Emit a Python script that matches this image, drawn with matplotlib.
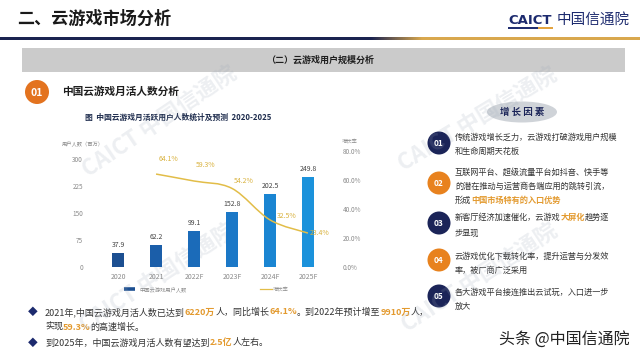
import numpy as np
import matplotlib
matplotlib.use("Agg")
import matplotlib.pyplot as plt
import matplotlib.patches as mpatches
from matplotlib.path import Path
from matplotlib.ticker import FuncFormatter

plt.rcParams["font.family"] = ["Noto Sans CJK SC", "DejaVu Sans"]

# ---------------------------------------------------------------------------
# Data
# ---------------------------------------------------------------------------
YEARS = ["2020", "2021", "2022F", "2023F", "2024F", "2025F"]
USERS = [37.9, 62.2, 99.1, 152.8, 202.5, 249.8]          # 百万人
GROWTH = [64.1, 59.3, 54.2, 32.5, 23.4]                   # %, 2021 起
LEFT_TICKS = [0, 75, 150, 225, 300]
RIGHT_TICKS = [0, 20, 40, 60, 80]

BAR_COLORS = ["#1c4f91", "#1b5ea9", "#1b6bb9", "#1b78c7", "#1a85d2", "#1b92db"]
GOLD = "#e2bd48"
NAVY = "#1b2458"
ORANGE = "#e8821e"
HIGHLIGHT = "#e39a2f"
TEXT = "#333333"

FACTORS = [
    ("01", NAVY, [[("传统游戏增长乏力，云游戏打破游戏用户规模", None)],
                  [("和生命周期天花板", None)]]),
    ("02", ORANGE, [[("互联网平台、超级流量平台如抖音、快手等", None)],
                    [("的潜在推动与运营商各端应用的跳转引流，", None)],
                    [("形成", None), ("中国市场特有的入口优势", "hl")]]),
    ("03", NAVY, [[("新客厅经济加速催化，云游戏", None), ("大屏化", "hl"), ("趋势逐", None)],
                  [("步显现", None)]]),
    ("04", ORANGE, [[("云游戏优化下载转化率，提升运营与分发效", None)],
                    [("率，被厂商广泛采用", None)]]),
    ("05", NAVY, [[("各大游戏平台接连推出云试玩，入口进一步", None)],
                  [("放大", None)]]),
]
FACTOR_CIRCLE_Y = [143, 183, 223, 260, 296]
FACTOR_TEXT_Y = [[137, 151], [172, 186, 200], [217, 233], [256, 270], [292, 306]]

W, H = 640, 360
fig = plt.figure(figsize=(6.4, 3.6), dpi=100)
fig.patch.set_facecolor("white")

bg = fig.add_axes([0, 0, 1, 1])
bg.set_xlim(0, W)
bg.set_ylim(H, 0)
bg.axis("off")


def runs(x, y, parts, size, weight="normal", zorder=5):
    """Draw consecutive coloured text pieces on one line."""
    t = None
    for s, c in parts:
        color = HIGHLIGHT if c == "hl" else (c or TEXT)
        w = "bold" if c == "hl" else weight
        if t is None:
            t = bg.text(x, y, s, color=color, fontsize=size, fontweight=w,
                        ha="left", va="center", zorder=zorder)
        else:
            t = bg.annotate(s, xy=(1, 0.5), xycoords=t, color=color,
                            fontsize=size, fontweight=w,
                            ha="left", va="center", zorder=zorder)
    return t


# --- header -----------------------------------------------------------------
bg.text(17, 19, "二、云游戏市场分析", fontsize=12.3, fontweight="bold",
        color="#1a1a1a", va="center", ha="left")
bg.text(508, 20, "CAICT", fontsize=9.5, fontweight="heavy", color="#1c2a6e",
        va="center", ha="left", family=["DejaVu Sans"])
bg.plot([508, 538], [28, 28], color="#1c2a6e", lw=1.4, solid_capstyle="butt")
bg.plot([538, 553], [28, 28], color="#e3a13a", lw=1.4, solid_capstyle="butt")
bg.text(557, 20, "中国信通院", fontsize=10.5, color="#1c2a6e",
        va="center", ha="left")

# gradient rule navy -> gold
xs = np.linspace(0, 1, 400)
navy_rgb = np.array([0x1b, 0x23, 0x50]) / 255
gold_rgb = np.array([0xd9, 0xa8, 0x4e]) / 255
mix = np.clip((xs - 0.58) / 0.08, 0, 1)[:, None]
grad = (navy_rgb * (1 - mix) + gold_rgb * mix)[None, :, :]
bg.imshow(grad, extent=[0, W, 40, 37], aspect="auto", zorder=1)
bg.set_xlim(0, W)
bg.set_ylim(H, 0)

# banner
bg.add_patch(mpatches.Rectangle((22, 48), 603, 24, facecolor="#cbcbcb",
                                edgecolor="none", zorder=1))
bg.text(320, 60, "（二）云游戏用户规模分析", fontsize=6.5, fontweight="bold",
        color="#1e1e1e", ha="center", va="center", zorder=2)

# section 01
bg.add_patch(mpatches.Circle((37, 92), 12, facecolor="#e3731f",
                             edgecolor="none", zorder=2))
bg.text(37, 92.5, "01", fontsize=7.5, fontweight="bold", color="white",
        ha="center", va="center", zorder=3)
bg.text(62, 92, "中国云游戏月活人数分析", fontsize=7.7, fontweight="bold",
        color="#1e1e1e", ha="left", va="center")
bg.text(85, 117, "图  中国云游戏月活跃用户人数统计及预测  2020-2025",
        fontsize=5.6, fontweight="bold", color="#1f2d4e", ha="left", va="center")

# --- chart ------------------------------------------------------------------
ax = fig.add_axes([90 / W, 1 - 267 / H, 246 / W, 116 / H])
ax.set_facecolor("none")
x = np.arange(len(YEARS))
bars = ax.bar(x, USERS, width=0.3, color=BAR_COLORS, zorder=2)
for xi, v in zip(x, USERS):
    ax.annotate(f"{v:.1f}", (xi, v), xytext=(0, 4), textcoords="offset pixels",
                ha="center", va="bottom", fontsize=5, color="#444444")
ax.set_xlim(-0.74, 5.74)
ax.set_ylim(0, 322)
ax.set_yticks(LEFT_TICKS)
ax.set_yticklabels([str(t) for t in LEFT_TICKS])
ax.set_xticks(x)
ax.set_xticklabels(YEARS)
ax.tick_params(axis="both", length=0, labelsize=4.6, labelcolor="#8a8a8a")
ax.tick_params(axis="x", pad=4, labelsize=5)
ax.tick_params(axis="y", pad=5)
for s in ax.spines.values():
    s.set_visible(False)

ax2 = ax.twinx()
ax2.set_ylim(0, 80)
ax2.set_yticks(RIGHT_TICKS)
ax2.yaxis.set_major_formatter(FuncFormatter(lambda v, _: f"{v:.1f}%"))
ax2.tick_params(axis="y", length=0, labelsize=4.6, labelcolor="#8a8a8a", pad=5)
for s in ax2.spines.values():
    s.set_visible(False)

# smooth growth line (Catmull-Rom -> Bezier) through the data points
gx = x[1:].astype(float)
gy = np.array(GROWTH, dtype=float)
pts = np.column_stack([gx, gy])
ext = np.vstack([pts[0], pts, pts[-1]])
verts = [tuple(pts[0])]
codes = [Path.MOVETO]
for i in range(len(pts) - 1):
    p0, p1, p2, p3 = ext[i], ext[i + 1], ext[i + 2], ext[i + 3]
    verts += [tuple(p1 + (p2 - p0) / 6), tuple(p2 - (p3 - p1) / 6), tuple(p2)]
    codes += [Path.CURVE4] * 3
ax2.add_patch(mpatches.PathPatch(Path(verts, codes), facecolor="none",
                                 edgecolor=GOLD, lw=1.1, zorder=3))
label_offsets = [(12, 15), (12, 16), (12, 7), (17, 4), (12, 0)]
for xi, v, off in zip(gx, GROWTH, label_offsets):
    ax2.annotate(f"{v}%", (xi, v), xytext=off, textcoords="offset pixels",
                 ha="center", va="center", fontsize=5, color="#d9b23e")

bg.text(62, 143, "用户人数（百万）", fontsize=3.8, color="#8a8a8a",
        ha="left", va="center")
bg.text(342, 141, "增长率", fontsize=3.8, color="#8a8a8a", ha="left", va="center")

# legend
bg.plot([124, 135], [289, 289], color=BAR_COLORS[0], lw=2.6,
        solid_capstyle="butt")
bg.text(140, 289, "中国云游戏用户人数", fontsize=3.8, color="#8a8a8a",
        ha="left", va="center")
bg.plot([260, 272], [289, 289], color=GOLD, lw=0.9)
bg.text(273, 289, "增长率", fontsize=3.8, color="#8a8a8a", ha="left", va="center")

# --- bullet notes ---------------------------------------------------------
for yy in (312, 343):
    bg.text(33, yy, "◆", fontsize=7, color="#1c2a6e", ha="center", va="center")
runs(45, 312, [("2021年,中国云游戏月活人数已达到", None), ("6220万", "hl"),
               ("人，同比增长", None), ("64.1%", "hl"),
               ("。到2022年预计增至", None), ("9910万", "hl"), ("人，", None)],
     6.5)
runs(45, 327, [("实现", None), ("59.3%", "hl"), ("的高速增长。", None)], 6.5)
runs(45, 343, [("到2025年，中国云游戏月活人数有望达到", None), ("2.5亿", "hl"),
               ("人左右。", None)], 6.5)

# --- growth factors panel ---------------------------------------------------
bg.add_patch(mpatches.Ellipse((522, 112), 70, 21, facecolor="#cfd3d8",
                              edgecolor="none", zorder=2))
bg.text(522, 112, "增 长 因 素", fontsize=6.8, fontweight="bold", color=NAVY,
        ha="center", va="center", zorder=3)
for (num, col, lines), cy, ty in zip(FACTORS, FACTOR_CIRCLE_Y, FACTOR_TEXT_Y):
    bg.add_patch(mpatches.Circle((439, cy), 11.5, facecolor=col,
                                 edgecolor="none", zorder=2))
    bg.text(439, cy + 0.5, num, fontsize=6, fontweight="bold", color="white",
            ha="center", va="center", zorder=3)
    for parts, yy in zip(lines, ty):
        runs(455, yy, parts, 5.9)

# --- faint diagonal watermarks ---------------------------------------------
for (wx, wy, rot) in [(160, 122, 34), (158, 278, 33), (478, 120, 31), (480, 278, 33)]:
    bg.text(wx, wy, "CAICT 中国信通院", fontsize=16, fontweight="bold",
            color="#9aa6b6", alpha=0.18, rotation=rot, ha="center",
            va="center", rotation_mode="anchor", zorder=10)

# source tag
bg.text(630, 339, "头条 @中国信通院", fontsize=11.5, color="#222222",
        ha="right", va="center", zorder=11)

fig.savefig("out.png", dpi=100)
